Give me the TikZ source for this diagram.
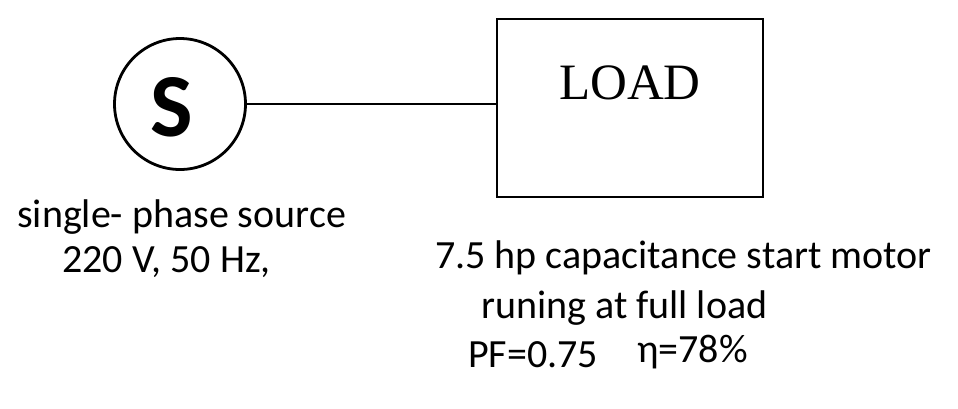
\documentclass[tikz,border=0pt]{standalone}
\usepackage{fontspec}
\setmainfont{Carlito}
\newfontfamily\serifload{Liberation Serif}
\begin{document}
\begin{tikzpicture}[x=1pt,y=-1pt,
  lbl/.style={anchor=base west,inner sep=0pt,font=\fontsize{40}{44}\selectfont},
  shape line/.style={draw,line width=2.8pt}]
\useasboundingbox[fill=white] (0,0) rectangle (958,408);
\node[shape line,circle,minimum size=131pt,inner sep=0pt] (s) at (180,104) {};
\node[inner sep=0pt,font=\fontsize{90}{90}\selectfont\bfseries] (sl) at (172,107) {S};
\node[shape line,rectangle,minimum width=266pt,minimum height=178pt,inner sep=0pt] (load) at (630,108) {};
\node[inner sep=0pt,font=\fontsize{51}{51}\serifload] (loadl) at (630,83) {LOAD};
\draw[line width=2.8pt] (s.east) -- (s.east -| load.west);
\node[lbl] (t1) at (17,227) {single- phase source};
\node[lbl] (t2) at (62,272) {220 V, 50 Hz,};
\node[lbl] (t3) at (435,268) {7.5 hp capacitance start motor};
\node[lbl] (t4) at (481,318) {runing at full load};
\node[lbl] (t5) at (468,367) {PF=0.75};
\node[lbl] (t6) at (637,362) {η=78\%};
\end{tikzpicture}
\end{document}
